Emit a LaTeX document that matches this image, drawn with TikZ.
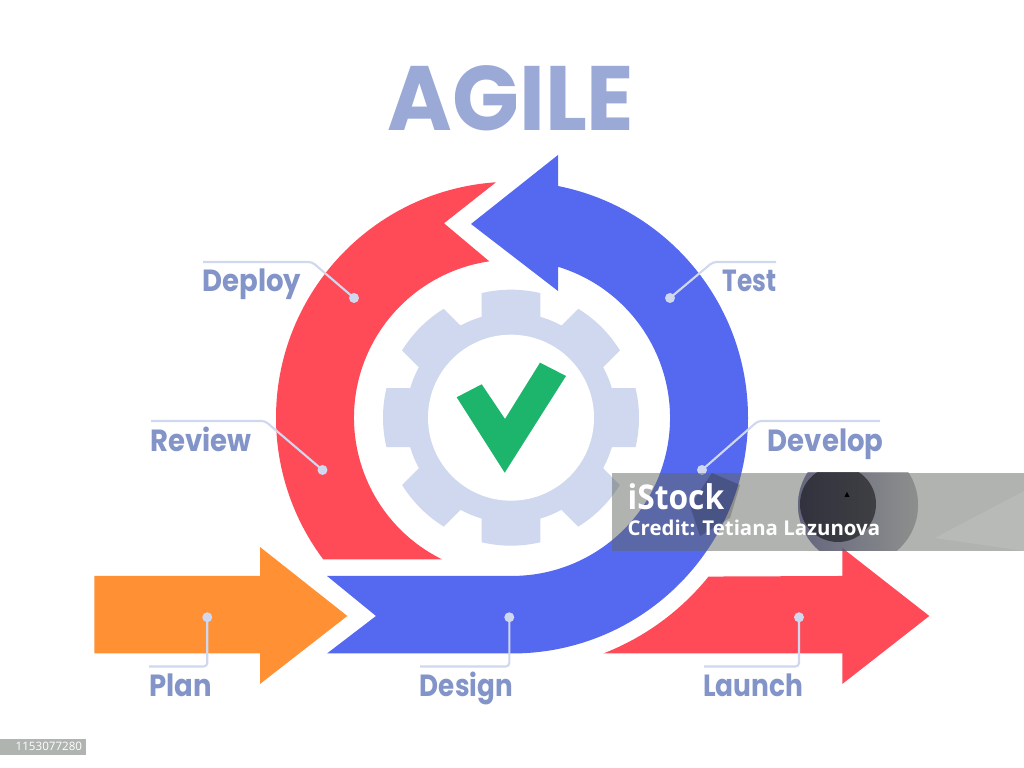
\documentclass[tikz,border=0pt]{standalone}
\usepackage{fontspec}
\setmainfont{Poppins}
\newfontfamily\creditfont{Open Sans}
\usetikzlibrary{positioning}
\definecolor{redfill}{HTML}{FF4B58}
\definecolor{bluefill}{HTML}{5468F0}
\definecolor{orangefill}{HTML}{FF9033}
\definecolor{gearfill}{HTML}{CFD8EE}
\definecolor{checkfill}{HTML}{1DB56C}
\definecolor{labeltext}{HTML}{8294C8}
\definecolor{titletext}{HTML}{9AA9D6}
\definecolor{barfill}{HTML}{626862}
\tikzset{
    stage/.style={inner sep=0pt, anchor=base west, text=labeltext, font=\fontsize{8.7}{10}\selectfont\bfseries, xscale=0.9},
    leader/.style={gearfill, line width=0.6pt, rounded corners=1pt},
    dotmark/.style={circle, fill=gearfill, inner sep=0pt, minimum size=0.1cm},
    mark text/.style={inner sep=0pt, anchor=base west, text=white}
}
\begin{document}
\begin{tikzpicture}[x=0.01cm, y=0.01cm]
    \useasboundingbox (0,0) rectangle (1024,768);
    \fill[white] (0,0) rectangle (1024,768);

    \node[inner sep=0pt, anchor=base, text=titletext, font=\fontsize{26}{30}\selectfont\bfseries, xscale=0.96] at (511,637)(title){AGILE};

    \fill[bluefill] (327,114.5) -- (512,114.5) arc[start angle=-90, end angle=78.76, radius=236] -- (558,613) -- (471,544) -- (558,477) -- (558,501.2) arc[start angle=73.08, end angle=-90, radius=158] -- (327,192) -- (376,152) -- cycle;
    \fill[redfill] (496,585.7) arc[start angle=93.89, end angle=216.87, radius=236] -- (441.9,208.7) arc[start angle=243.66, end angle=98.26, radius=158] -- (444,544.7) -- cycle;
    \fill[orangefill] (94.3,114.5) -- (260,114.5) -- (260,84) -- (347.3,152) -- (260,221) -- (260,192) -- (94.3,192) -- cycle;
    \fill[redfill] (603.3,114.5) arc[start angle=-68.8, end angle=-38.88, radius=252.5] -- (842.3,192) -- (842.3,220) -- (929.3,152) -- (842.3,84) -- (842.3,114.5) -- cycle;

    \begin{scope}[shift={(511,350.3)}]
        \fill[gearfill] (0,0) circle[radius=105];
        \foreach \a in {0,45,...,315}
            \fill[gearfill] (\a-17:100) -- (\a-16.3:105) -- (\a-13.3:128) arc[start angle=\a-13.3, end angle=\a+13.3, radius=128] -- (\a+16.3:105) -- (\a+17:100) -- cycle;
        \fill[white] (0,0) circle[radius=83];
    \end{scope}
    \fill[checkfill] (456.7,370.7) -- (481.7,383.7) -- (505,349) -- (540,405.3) -- (566,392) -- (504.7,295.3) -- cycle;

    \node[stage] at (202,476)(deploy){Deploy};
    \node[stage] at (150,316)(review){Review};
    \node[stage, xscale=0.9] at (722.3,476)(test){Test};
    \node[stage] at (767.3,316)(develop){Develop};
    \node[stage] at (149,71)(plan){Plan};
    \node[stage, xscale=0.95] at (419.3,71)(design){Design};
    \node[stage, xscale=0.96] at (702.7,71)(launch){Launch};

    \node[dotmark] at (354,470)(deployDot){};
    \node[dotmark] at (322.5,298)(reviewDot){};
    \node[dotmark] at (670,470)(testDot){};
    \node[dotmark] at (702,298)(developDot){};
    \node[dotmark] at (207.3,150.7)(planDot){};
    \node[dotmark] at (509.3,150.7)(designDot){};
    \node[dotmark] at (799,150.7)(launchDot){};

    \coordinate (deployBend) at (312,506);
    \coordinate (deployEnd) at (203,506);
    \coordinate (reviewBend) at (265,347);
    \coordinate (reviewEnd) at (151,347);
    \coordinate (testBend) at (713,506);
    \coordinate (testEnd) at (776,506);
    \coordinate (developBend) at (758,347);
    \coordinate (developEnd) at (880,347);
    \coordinate (planBend) at (207.3,101.5);
    \coordinate (planEnd) at (149,101.5);
    \coordinate (designBend) at (509.3,101.5);
    \coordinate (designEnd) at (420,101.5);
    \coordinate (launchBend) at (799,101.5);
    \coordinate (launchEnd) at (704,101.5);

    \draw[leader] (deployDot.center) -- (deployBend) -- (deployEnd);
    \draw[leader] (reviewDot.center) -- (reviewBend) -- (reviewEnd);
    \draw[leader] (testDot.center) -- (testBend) -- (testEnd);
    \draw[leader] (developDot.center) -- (developBend) -- (developEnd);
    \draw[leader] (planDot.center) -- (planBend) -- (planEnd);
    \draw[leader] (designDot.center) -- (designBend) -- (designEnd);
    \draw[leader] (launchDot.center) -- (launchBend) -- (launchEnd);

    \begin{scope}
        \clip (612,217) rectangle (1024,295);
        \fill[barfill, opacity=0.5] (612,217) rectangle (1024,295);
        \fill[left color=black!60!blue!70!white, right color=barfill!40!white, opacity=0.35] (858,263) circle[radius=60];
        \fill[black, opacity=0.5] (838,264) circle[radius=38];
        \fill[black] (847,276) -- (849.5,271) -- (844.5,271) -- cycle;
        \fill[white, opacity=0.1] (935,230) -- (1024,277) -- (1024,217) -- cycle;
        \fill[black, opacity=0.2] (690,262) -- (712,295) -- (740,283) -- (730,250) -- (700,232) -- cycle;
    \end{scope}
    \node[mark text, font=\fontsize{9.7}{11}\selectfont\bfseries\creditfont, xscale=0.93] at (627,258)(istock){iStock};
    \node[mark text, font=\fontsize{5.8}{7}\selectfont\bfseries\creditfont] at (627,232)(credit){Credit: Tetiana Lazunova};

    \fill[barfill!50!white] (0,13) rectangle (86,29);
    \node[mark text, font=\fontsize{3.3}{4}\selectfont\creditfont] at (15,17)(photoid){1153077280};
\end{tikzpicture}
\end{document}
